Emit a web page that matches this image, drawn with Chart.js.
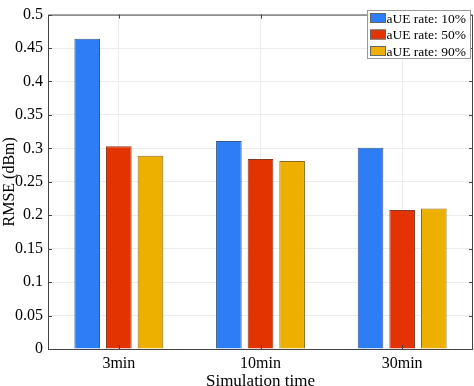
<!DOCTYPE html>
<html>
<head>
<meta charset="utf-8">
<script src="https://cdn.jsdelivr.net/npm/chart.js@4"></script>
<style>
  html, body { margin: 0; padding: 0; background: #fff; }
  #wrap { width: 474px; height: 386px; }
</style>
</head>
<body>
<div id="wrap"><canvas id="c" width="474" height="386"></canvas></div>
<script>
var times    = ["3min", "10min", "30min"];
var rate10   = [0.464, 0.311, 0.301];
var rate50   = [0.303, 0.284, 0.208];
var rate90   = [0.289, 0.281, 0.210];
var yTicks   = [0, 0.05, 0.1, 0.15, 0.2, 0.25, 0.3, 0.35, 0.4, 0.45, 0.5];

var SERIF = "'Liberation Serif', 'DejaVu Serif', serif";
var AXIS  = "#444";

// matlab-ish box with inward ticks, drawn after the bars
var boxPlugin = {
  id: "box",
  afterDatasetsDraw: function(chart) {
    var a = chart.chartArea, ctx = chart.ctx;
    var xs = chart.scales.x, ys = chart.scales.y;
    ctx.save();
    ctx.strokeStyle = AXIS;
    ctx.lineWidth = 1;
    ctx.beginPath();
    ctx.rect(a.left + 0.5, a.top + 0.5, a.right - a.left - 1, a.bottom - a.top);
    for (var i = 0; i < ys.ticks.length; i++) {
      var y = Math.round(ys.getPixelForTick(i)) + 0.5;
      ctx.moveTo(a.left, y); ctx.lineTo(a.left + 4, y);
      ctx.moveTo(a.right, y); ctx.lineTo(a.right - 4, y);
    }
    for (var j = 0; j < xs.ticks.length; j++) {
      var x = Math.round(xs.getPixelForTick(j)) + 0.5;
      ctx.moveTo(x, a.bottom); ctx.lineTo(x, a.bottom - 4);
      ctx.moveTo(x, a.top); ctx.lineTo(x, a.top + 4);
    }
    ctx.stroke();
    ctx.restore();
  }
};

// legend box inside the plot, top right
var legendPlugin = {
  id: "inLegend",
  afterDraw: function(chart) {
    var ctx = chart.ctx, ds = chart.data.datasets;
    var x0 = 367, y0 = 10, w = 103, h = 48;
    ctx.save();
    ctx.fillStyle = "#fff";
    ctx.fillRect(x0, y0, w, h);
    ctx.strokeStyle = "#999";
    ctx.lineWidth = 1;
    ctx.strokeRect(x0 + 0.5, y0 + 0.5, w, h);
    ctx.font = "13.5px " + SERIF;
    ctx.textBaseline = "middle";
    for (var i = 0; i < ds.length; i++) {
      var cy = y0 + 8 + i * 16.5;
      ctx.fillStyle = ds[i].backgroundColor;
      ctx.fillRect(x0 + 3, cy - 5, 16, 10);
      ctx.strokeStyle = "#666";
      ctx.strokeRect(x0 + 3.5, cy - 4.5, 15, 9);
      ctx.fillStyle = "#000";
      ctx.fillText(ds[i].label, x0 + 19.5, cy + 1);
    }
    ctx.restore();
  }
};

function ds(lbl, vals, fill, edge) {
  return {
    label: lbl,
    data: vals,
    backgroundColor: fill,
    borderColor: edge,
    borderWidth: 1,
    categoryPercentage: 0.67,
    barPercentage: 0.81
  };
}

new Chart(document.getElementById("c"), {
  type: "bar",
  data: {
    labels: times,
    datasets: [
      ds("aUE rate: 10%", rate10, "#2d7df7", "#3a5a8a"),
      ds("aUE rate: 50%", rate50, "#e33300", "#8a3a20"),
      ds("aUE rate: 90%", rate90, "#edb000", "#8a6a20")
    ]
  },
  plugins: [boxPlugin, legendPlugin],
  options: {
    responsive: false,
    animation: false,
    layout: { padding: { top: 5, right: 1, left: 0, bottom: 0 } },
    plugins: { legend: { display: false }, tooltip: { enabled: false } },
    scales: {
      x: {
        grid: { color: "#ececec", drawTicks: false, offset: false },
        border: { display: false },
        ticks: { color: "#000", font: { family: SERIF, size: 16 }, padding: 5 },
        title: { display: true, text: "Simulation time", color: "#000",
                 font: { family: SERIF, size: 17 }, padding: { top: 0, bottom: -6 } },
        afterFit: function(s) { s.height = 37; }
      },
      y: {
        min: 0, max: 0.5,
        afterBuildTicks: function(s) { s.ticks = yTicks.map(function(v) { return { value: v }; }); },
        grid: { color: "#ececec", drawTicks: false },
        border: { display: false },
        ticks: {
          color: "#000", font: { family: SERIF, size: 16 }, padding: 5,
          callback: function(v) { return String(+v.toFixed(2)); }
        },
        title: { display: true, text: "RMSE (dBm)", color: "#000",
                 font: { family: SERIF, size: 16 }, padding: 0 },
        afterFit: function(s) { s.width = 48; }
      }
    }
  }
});
</script>
</body>
</html>
